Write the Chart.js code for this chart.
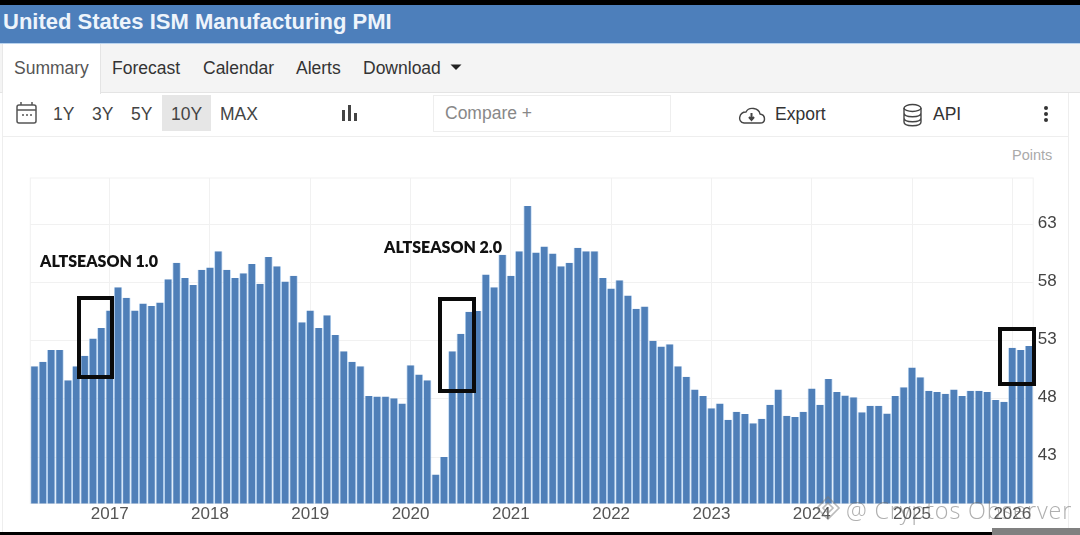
<!DOCTYPE html>
<html><head><meta charset="utf-8">
<script src="https://cdn.jsdelivr.net/npm/chart.js@4"></script>
<style>
html,body{margin:0;padding:0;background:#fff;width:1080px;height:535px;overflow:hidden;font-family:"Liberation Sans",Arial,sans-serif}
.a{position:absolute;white-space:nowrap}
.t{font-size:17.5px;color:#333;transform:translateY(-50%)}
.b{position:absolute;border:4px solid #0a0a0a;box-sizing:border-box}
.note{position:absolute;font:800 16px Lato,sans-serif;color:#111;white-space:nowrap;transform:translateY(-50%)}
svg{position:absolute;overflow:visible}
</style></head><body>
<div class="a" style="left:0;top:0;width:1080px;height:5px;background:#000"></div>
<div class="a" style="left:0;top:5px;width:1080px;height:38px;background:#4d7fbb"></div>
<div class="a" style="left:0;top:43px;width:1080px;height:1px;background:#b9d3ee"></div>
<div class="a" style="left:3px;top:22px;font-weight:bold;font-size:22px;color:#eef4fb;transform:translateY(-50%)">United States ISM Manufacturing PMI</div>
<div class="a" style="left:0;top:44px;width:1080px;height:49px;background:#f4f4f4;border-bottom:1px solid #e4e4e4;box-sizing:border-box"></div>
<div class="a" style="left:2px;top:44px;width:99px;height:50px;background:#fff;border-left:1px solid #e8e8e8;border-right:1px solid #e4e4e4;box-sizing:border-box"></div>
<div class="a t" style="left:14px;top:68px;color:#555">Summary</div>
<div class="a t" style="left:112px;top:68px">Forecast</div>
<div class="a t" style="left:203px;top:68px">Calendar</div>
<div class="a t" style="left:296px;top:68px">Alerts</div>
<div class="a t" style="left:363px;top:68px">Download</div>
<svg style="left:0;top:0" width="1" height="1"><path d="M450.5 64.5h11l-5.5 5.5z" fill="#222"/></svg>

<div class="a" style="left:2px;top:136px;width:1066px;height:1px;background:#eee"></div>
<div class="a" style="left:2px;top:93px;width:1px;height:440px;background:#eee"></div>
<div class="a" style="left:1068px;top:93px;width:1px;height:440px;background:#eee"></div>
<svg style="left:0;top:0" width="1" height="1" fill="none" stroke="#555" stroke-width="1.5">
<rect x="17" y="105" width="19" height="18" rx="2"/><path d="M17 110h19M21 102v3M32 102v3M22 115h2M26 115h2M30 115h2"/></svg>
<div class="a t" style="left:53px;top:114px;color:#444">1Y</div>
<div class="a t" style="left:92px;top:114px;color:#444">3Y</div>
<div class="a t" style="left:131px;top:114px;color:#444">5Y</div>
<div class="a" style="left:162px;top:95px;width:49px;height:36px;background:#e6e6e6"></div>
<div class="a t" style="left:171px;top:114px;color:#444">10Y</div>
<div class="a t" style="left:220px;top:114px;color:#444">MAX</div>
<svg style="left:0;top:0" width="1" height="1" fill="#444"><rect x="342" y="110" width="3" height="11"/><rect x="348" y="105" width="3" height="16"/><rect x="354" y="113" width="3" height="8"/></svg>
<div class="a" style="left:433px;top:95px;width:238px;height:37px;border:1px solid #eee;box-sizing:border-box"></div>
<div class="a t" style="left:445px;top:113px;color:#888">Compare +</div>
<svg style="left:0;top:0" width="1" height="1" fill="none" stroke="#444" stroke-width="1.4">
<path d="M744 123h16c6 0 6-8 0-9c-1-6-11-8-14-2c-7 0-9 10-2 11z"/><path d="M751.5 113v6M749 117l2.5 3l2.5-3" stroke-width="2"/>
<ellipse cx="912.5" cy="108" rx="8.5" ry="3.5"/><path d="M904 108v14c0 5 17 5 17 0v-14M904 113c0 5 17 5 17 0M904 118c0 5 17 5 17 0"/></svg>
<div class="a t" style="left:775px;top:114px">Export</div>
<div class="a t" style="left:933px;top:114px">API</div>
<svg style="left:0;top:0" width="1" height="1" fill="#333"><circle cx="1046" cy="108" r="2"/><circle cx="1046" cy="114" r="2"/><circle cx="1046" cy="120" r="2"/></svg>
<div class="a" style="left:1012px;top:155px;font-size:14.5px;color:#aaa;transform:translateY(-50%)">Points</div>

<canvas id="c" width="1080" height="360" style="position:absolute;left:0;top:170px;width:1080px;height:360px;display:block"></canvas>

<div class="b" style="left:77px;top:296px;width:37px;height:83px"></div>
<div class="b" style="left:438px;top:297px;width:38px;height:96px"></div>
<div class="b" style="left:998px;top:327px;width:38px;height:59px"></div>
<div class="note" style="left:40px;top:260px">ALTSEASON 1.0</div>
<div class="note" style="left:384px;top:246px">ALTSEASON 2.0</div>

<svg style="left:0;top:0" width="1" height="1" fill="none" stroke="rgba(120,120,120,.5)" stroke-width="1.6"><path d="M828 497l11 11l-11 11l-11-11zM828 503l5 5l-5 5l-5-5z"/></svg>
<div class="a" style="left:846px;top:510px;font:300 23.4px 'Open Sans',sans-serif;letter-spacing:.85px;color:rgba(110,110,110,.55);transform:translateY(-50%)">@ Cryptos Observer</div>

<div class="a" style="left:0;top:532px;width:1080px;height:3px;background:#000"></div>
<div class="a" style="left:992px;top:528px;width:88px;height:7px;background:#808080"></div>

<script>
const categories = [
"2016-04","2016-05","2016-06","2016-07","2016-08","2016-09","2016-10","2016-11","2016-12",
"2017-01","2017-02","2017-03","2017-04","2017-05","2017-06","2017-07","2017-08","2017-09","2017-10","2017-11","2017-12",
"2018-01","2018-02","2018-03","2018-04","2018-05","2018-06","2018-07","2018-08","2018-09","2018-10","2018-11","2018-12",
"2019-01","2019-02","2019-03","2019-04","2019-05","2019-06","2019-07","2019-08","2019-09","2019-10","2019-11","2019-12",
"2020-01","2020-02","2020-03","2020-04","2020-05","2020-06","2020-07","2020-08","2020-09","2020-10","2020-11","2020-12",
"2021-01","2021-02","2021-03","2021-04","2021-05","2021-06","2021-07","2021-08","2021-09","2021-10","2021-11","2021-12",
"2022-01","2022-02","2022-03","2022-04","2022-05","2022-06","2022-07","2022-08","2022-09","2022-10","2022-11","2022-12",
"2023-01","2023-02","2023-03","2023-04","2023-05","2023-06","2023-07","2023-08","2023-09","2023-10","2023-11","2023-12",
"2024-01","2024-02","2024-03","2024-04","2024-05","2024-06","2024-07","2024-08","2024-09","2024-10","2024-11","2024-12",
"2025-01","2025-02","2025-03","2025-04","2025-05","2025-06","2025-07","2025-08","2025-09","2025-10","2025-11","2025-12",
"2026-01","2026-02","2026-03"];
const pmiValues = [
50.8,51.2,52.2,52.2,49.6,50.8,51.7,53.2,54.1,
55.6,57.6,56.7,55.6,56.2,56.0,56.3,58.3,59.7,58.4,57.8,59.1,
59.3,60.7,59.1,58.4,58.8,59.6,57.9,60.2,59.4,58.1,58.6,54.6,
55.6,54.1,55.2,53.5,52.1,51.2,50.8,48.25,48.2,48.2,48.05,47.6,
50.9,50.1,49.6,41.5,43.0,52.1,53.6,55.5,55.55,58.7,57.6,60.4,
58.6,60.7,64.6,60.6,61.1,60.5,59.4,59.7,61.0,60.7,60.7,58.4,
57.5,58.2,56.9,55.75,55.95,53.0,52.5,52.7,50.8,49.9,48.8,48.25,
47.2,47.6,46.2,46.9,46.7,45.9,46.3,47.5,48.8,46.55,46.45,46.9,
48.9,47.5,49.7,48.6,48.3,48.15,46.85,47.4,47.4,46.75,48.25,49.0,
50.7,49.85,48.7,48.6,48.45,48.8,48.25,48.7,48.7,48.6,47.9,47.75,
52.4,52.2,52.55];
const yTicks = [43,48,53,58,63];
const yearTicks = ["2017","2018","2019","2020","2021","2022","2023","2024","2025","2026"];

const isYearStart = (label) => label.endsWith("-01") && yearTicks.includes(label.slice(0,4));
const frame = {
  id:'frame',
  beforeDatasetsDraw(ch){
    const a = ch.chartArea, c = ch.ctx;
    c.save(); c.strokeStyle='#f1f1f1'; c.lineWidth=1;
    c.strokeRect(a.left,a.top,a.right-a.left,a.bottom-a.top);
    c.restore();
  }
};
new Chart(document.getElementById('c'),{
  type:'bar',
  data:{labels:categories,datasets:[{
    label:'Points',data:pmiValues,
    backgroundColor:'#4f7fb8',
    borderColor:'#a8cbef',
    borderWidth:{left:0.8,right:0.8,top:0,bottom:0},
    borderSkipped:false,
    barPercentage:0.98,categoryPercentage:1
  }]},
  options:{
    responsive:false,animation:false,devicePixelRatio:1,
    layout:{padding:{left:30.3,right:0,top:8,bottom:0}},
    plugins:{legend:{display:false},tooltip:{enabled:false},title:{display:false}},
    scales:{
      x:{
        type:'category',
        afterFit(s){s.height=26.5;s.paddingLeft=0;s.paddingRight=0;},
        grid:{offset:false,drawTicks:false,color:(ctx)=>ctx.tick&&ctx.tick.label?'#f1f1f1':'rgba(0,0,0,0)'},
        border:{display:false},
        ticks:{
          autoSkip:false,maxRotation:0,minRotation:0,padding:1,
          color:'#555',font:{family:'"Liberation Sans"',size:17},
          callback(v){const l=this.getLabelForValue(v);return isYearStart(l)?l.slice(0,4):'';}
        }
      },
      y:{
        position:'right',min:39,max:67,
        afterBuildTicks(s){s.ticks=yTicks.map(v=>({value:v}));},
        afterFit(s){s.width=1080-1033.2;s.paddingTop=0;s.paddingBottom=0;},
        grid:{drawTicks:false,color:'#f1f1f1'},
        border:{display:false},
        ticks:{padding:4.5,labelOffset:-1.5,color:'#444',font:{family:'"Liberation Sans"',size:17}}
      }
    }
  },
  plugins:[frame]
});
</script>
</body></html>
